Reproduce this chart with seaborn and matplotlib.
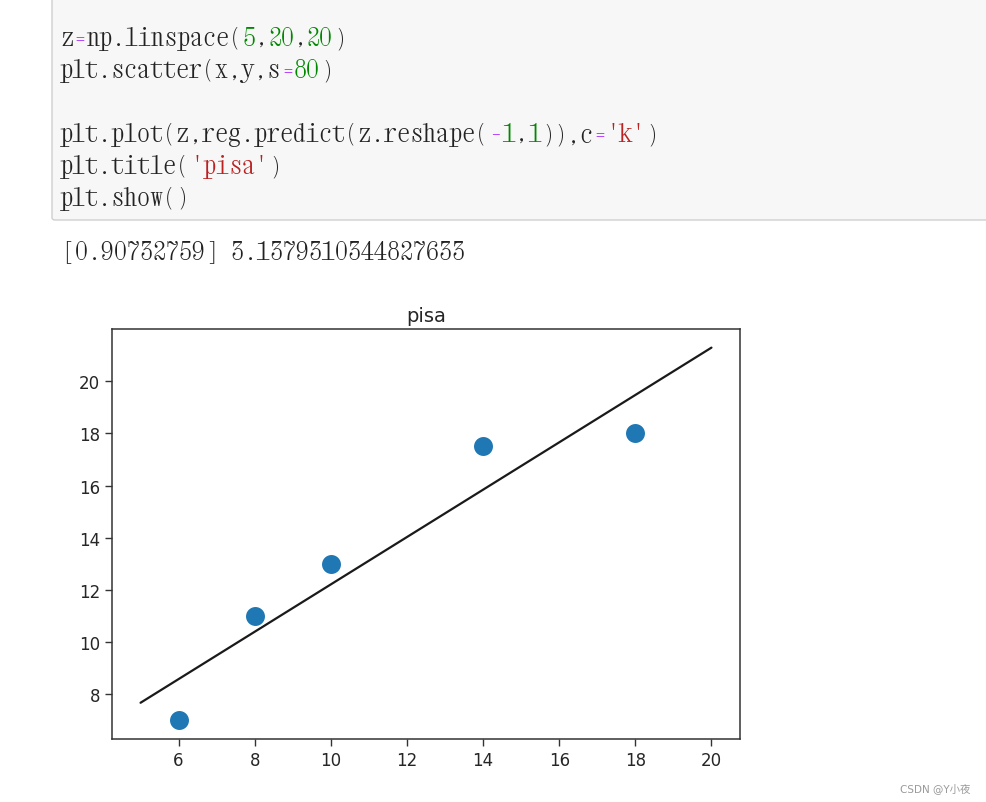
import numpy as np
import matplotlib
matplotlib.use('Agg')
import matplotlib.pyplot as plt
from matplotlib.patches import FancyBboxPatch
import seaborn as sns

# data
x_vals = [6, 8, 10, 14, 18]
y_vals = [7, 11, 13, 17.5, 18]
line_x = [5, 20]
line_y = [7.6746, 21.2845]

# notebook text
BLACK = '#222222'
PURPLE = '#aa22ff'
GREEN = '#008800'
RED = '#ba2121'
code_lines = [
    [('z', BLACK), ('=', PURPLE), ('np.linspace(', BLACK), ('5', GREEN), (',', BLACK),
     ('20', GREEN), (',', BLACK), ('20', GREEN), (')', BLACK)],
    [('plt.scatter(x,y,s', BLACK), ('=', PURPLE), ('80', GREEN), (')', BLACK)],
    [],
    [('plt.plot(z,reg.predict(z.reshape(', BLACK), ('-', PURPLE), ('1', GREEN), (',', BLACK),
     ('1', GREEN), (')),c', BLACK), ('=', PURPLE), ("'k'", RED), (')', BLACK)],
    [('plt.title(', BLACK), ("'pisa'", RED), (')', BLACK)],
    [('plt.show()', BLACK)],
]
output_text = '[0.90732759] 3.1379310344827633'
watermark = 'CSDN @Y小夜'

W, H = 986, 803
sns.set_style('white')
fig = plt.figure(figsize=(W / 100, H / 100), dpi=100)

def fx(px):
    return px / W

def fy(py):
    return 1 - py / H

# code cell box
cell = FancyBboxPatch((fx(52), fy(221)), fx(1100) - fx(52), fy(-20) - fy(221),
                      boxstyle='round,pad=0,rounding_size=0.003',
                      transform=fig.transFigure, facecolor='#f7f7f7',
                      edgecolor='#cfcfcf', linewidth=1, zorder=0)
fig.patches.append(cell)

mono = 'Xanh Mono'
fs = 18.7
# character advance of the mono font, measured once
r = fig.canvas.get_renderer()
probe = fig.text(0, 0, 'x' * 40, family=mono, fontsize=fs)
adv = (probe.get_window_extent(r).width) / 40
probe.remove()

baselines = [46, 78, 110, 142, 174, 206]
for line, base in zip(code_lines, baselines):
    n = 0
    for tok, col in line:
        fig.text(fx(60 + n * adv), fy(base), tok, family=mono, fontsize=fs,
                 color=col, va='baseline', ha='left')
        n += len(tok)

fig.text(fx(62), fy(259), output_text, family=mono, fontsize=fs,
         color=BLACK, va='baseline', ha='left')

# chart
ax = fig.add_axes([fx(112), fy(740), fx(740) - fx(112), fy(330) - fy(740)])
sns.scatterplot(x=x_vals, y=y_vals, s=220, color='#1f77b4', ax=ax, zorder=3)
sns.lineplot(x=line_x, y=line_y, color='#1a1a1a', linewidth=1.6, ax=ax)
ax.margins(0.05)
ax.set_xticks([6, 8, 10, 12, 14, 16, 18, 20])
ax.set_yticks([8, 10, 12, 14, 16, 18, 20])
ax.set_title('pisa', fontsize=14, color='#262626', pad=6)
for sp in ax.spines.values():
    sp.set_visible(True)
    sp.set_color('#333333')
    sp.set_linewidth(1.1)
ax.tick_params(axis='both', which='both', direction='out', length=5, width=1,
               color='#333333', labelsize=12, labelcolor='#262626',
               bottom=True, left=True)

fig.text(fx(970), fy(792), watermark, fontsize=7.5, color='#9a9a9a',
         family=['DejaVu Sans', 'Noto Sans CJK SC'], ha='right', va='baseline')

fig.savefig('out.png', dpi=100)
